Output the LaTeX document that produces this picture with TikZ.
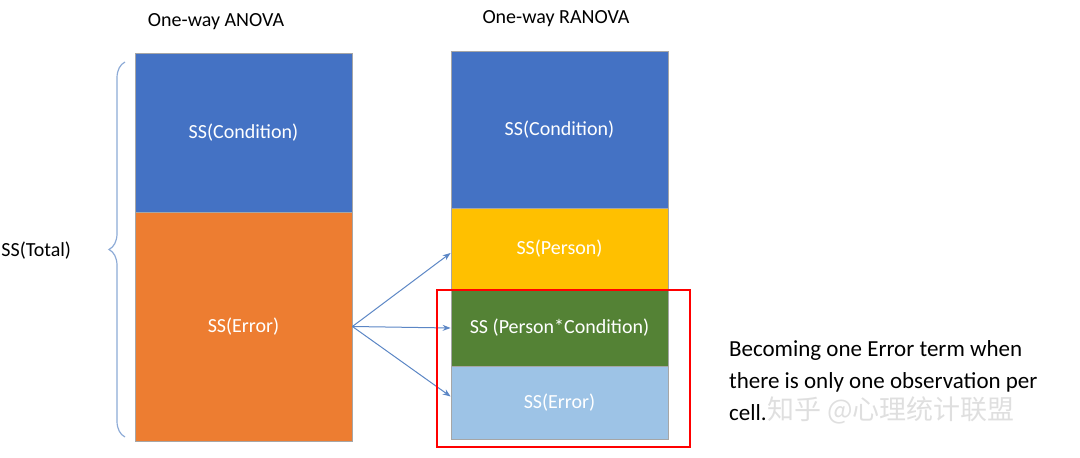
\documentclass[tikz,border=0pt]{standalone}
\usepackage{fontspec}
\setmainfont{Carlito}
\newfontfamily\cjk{Noto Sans CJK SC}
\usetikzlibrary{decorations.pathreplacing,arrows.meta}
\definecolor{condBlue}{HTML}{4472C4}
\definecolor{errOrange}{HTML}{ED7D31}
\definecolor{persGold}{HTML}{FFC000}
\definecolor{interGreen}{HTML}{548235}
\definecolor{errLight}{HTML}{9DC3E6}
\definecolor{lineBlue}{HTML}{5B86C5}
\tikzset{
  ssbox/.style={rectangle, draw=gray!70, line width=0.4pt, text=white,
    minimum width=108.5pt, inner sep=0pt, font=\fontsize{10}{12}\selectfont},
  link/.style={draw=lineBlue, line width=0.5pt, -{Stealth[length=4pt,width=3pt]}}
}
\begin{document}
\begin{tikzpicture}[x=0.5pt, y=-0.5pt]
\useasboundingbox (0,0) rectangle (1080,458);
% headings
\node[font=\fontsize{10}{12}\selectfont] (hA) at (216,22) {One-way ANOVA};
\node[font=\fontsize{10}{12}\selectfont] (hR) at (556,19) {One-way RANOVA};
% left column
\node[ssbox, fill=condBlue, minimum height=79.5pt] (aCond) at (243.5,132.5) {SS(Condition)};
\node[ssbox, fill=errOrange, minimum height=114.5pt] (aErr) at (243.5,326.5) {SS(Error)};
% right column
\node[ssbox, fill=condBlue, minimum height=78.5pt] (rCond) at (559.5,129.5) {SS(Condition)};
\node[ssbox, fill=persGold, minimum height=41pt] (rPers) at (559.5,249) {SS(Person)};
\node[ssbox, fill=interGreen, minimum height=38pt] (rInter) at (559.5,328) {SS (Person*Condition)};
\node[ssbox, fill=errLight, minimum height=36.5pt] (rErr) at (559.5,402.5) {SS(Error)};
% total brace
\coordinate (bTop) at (125,62);
\coordinate (bBot) at (125,437);
\draw[lineBlue!70, line width=0.6pt, decorate, decoration={brace, amplitude=8pt}]
  (bBot) -- (bTop);
\node[font=\fontsize{10}{12}\selectfont, anchor=west, inner xsep=0.5pt] (total) at (0,251) {SS(Total)};
% arrows
\draw[link] (aErr.east) -- ([yshift=-2pt]rPers.west);
\draw[link] (aErr.east) -- (rInter.west);
\draw[link] (aErr.east) -- ([yshift=3pt]rErr.west);
% highlight
\node[draw=red, line width=1pt, minimum width=126.5pt, minimum height=78.5pt, inner sep=0pt]
  (frame) at (563.5,368.5) {};
% note
\node[anchor=north west, align=left, font=\fontsize{11.5}{16}\selectfont] (note) at (722,333)
  {Becoming one Error term when\\there is only one observation per\\cell.};
\node[anchor=west, text=gray!25, font=\cjk\fontsize{13.5}{16}\selectfont] (mark) at (760,410) {知乎 @心理统计联盟};
\end{tikzpicture}
\end{document}
